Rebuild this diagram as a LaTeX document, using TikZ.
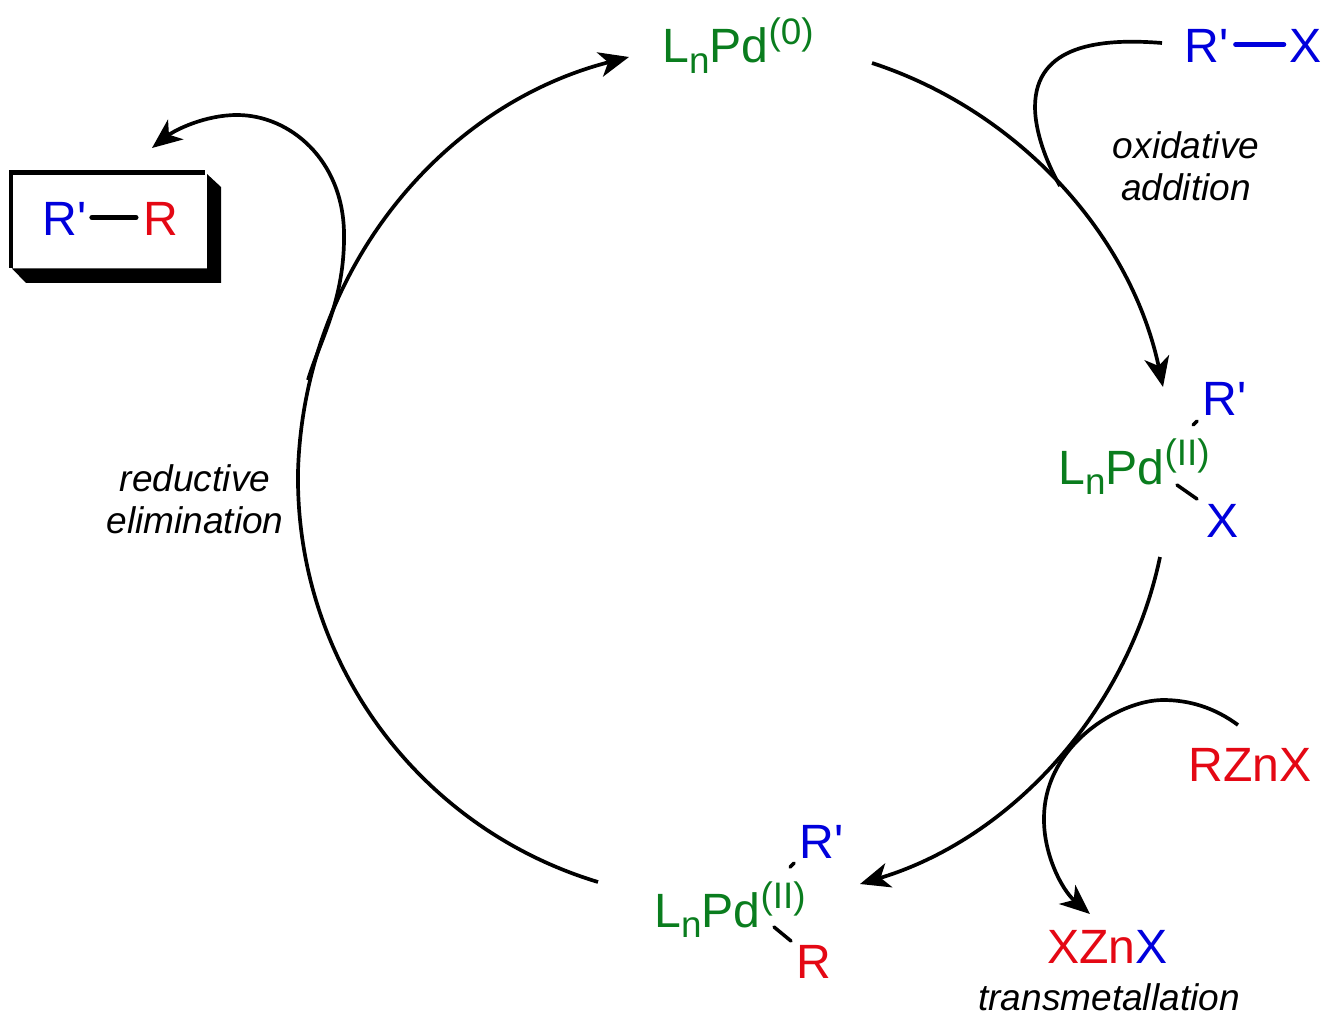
\documentclass[tikz,border=0pt]{standalone}
\usepackage{fontspec}
\setmainfont{Liberation Sans}
\usetikzlibrary{arrows.meta}
\definecolor{pdgreen}{RGB}{10,125,30}
\definecolor{rblue}{RGB}{0,0,220}
\definecolor{rred}{RGB}{228,8,20}
\newcommand{\lnpd}[1]{L\raisebox{-6.2pt}{\fontsize{21}{22}\selectfont n}Pd\raisebox{10.8pt}{\fontsize{21}{22}\selectfont (#1)}}
\newcommand{\rprime}{R\textquotesingle}
\tikzset{
	chem/.style={anchor=base west,inner sep=0pt,font=\fontsize{27.4}{30}\selectfont},
	step label/.style={inner sep=0pt,align=center,font=\fontsize{21.1}{24}\selectfont\itshape},
	cycle arrow/.style={line width=2.1pt,-{Stealth[length=0.6cm,width=0.5cm,inset=0.17cm]}},
	cycle line/.style={line width=2.1pt},
	bond/.style={line width=2.9pt,line cap=round,transform canvas={yshift=1.1pt}},
	ligand/.style={line width=2pt,line cap=round}
}
\begin{document}
\begin{tikzpicture}[x=0.02cm,y=-0.02cm]
	\useasboundingbox (0,0) rectangle (1327,1030);
	\node[chem,pdgreen] (pd0) at (662,63){\lnpd{0}};
	\node[chem,pdgreen] (pdx) at (1058,484){\lnpd{II}};
	\node[chem,pdgreen] (pdr) at (654,927){\lnpd{II}};
	\node[chem,rblue] (ra) at (1184,63){\rprime};
	\node[chem,rblue] (xa) at (1289,63){X};
	\node[chem,rblue] (rb) at (1202,415){\rprime};
	\node[chem,rblue] (xb) at (1206,537){X};
	\node[chem,rblue] (rc) at (799,858){\rprime};
	\node[chem,rred] (rd) at (796,978){R};
	\node[chem,rred] (rznx) at (1188,781){RZnX};
	\node[chem,rred] (xznx) at (1047,963){XZn\textcolor{rblue}{X}};
	\node[chem,rblue] (re) at (42,236){\rprime};
	\node[chem,rred] (rf) at (143,236){R};
	\node[step label] (oxadd) at (1186,166){oxidative\\addition};
	\node[step label] (redel) at (195,499){reductive\\elimination};
	\node[step label] (trans) at (1109,997){transmetallation};
	\coordinate (a1) at (872,63);
	\coordinate (a2) at (1163,387);
	\coordinate (b1) at (1160,557);
	\coordinate (b2) at (860,884);
	\coordinate (c1) at (598,882);
	\coordinate (c2) at (298,472);
	\coordinate (c3) at (629,57);
	\coordinate (la) at (1162,43);
	\coordinate (lb) at (1060,186);
	\coordinate (lc) at (1238,725);
	\coordinate (ld) at (1090,914);
	\coordinate (le) at (308,380);
	\coordinate (lf) at (152,148);
	\draw[cycle arrow] (a1) to[bend left=30,looseness=0.91] (a2);
	\draw[cycle arrow] (b1) to[bend left=30.7,looseness=0.91] (b2);
	\draw[cycle arrow] (c1) to[bend left=37,looseness=0.95] (c2) to[bend left=37,looseness=0.95] (c3);
	\draw[cycle line] (la) .. controls (1100,38) and (1035,45) .. (1035,107) .. controls (1035,130) and (1045,160) .. (lb);
	\draw[cycle arrow] (lc) .. controls (1215,708) and (1190,700) .. (1163,700) .. controls (1120,700) and (1043,745) .. (1044,820) .. controls (1044,855) and (1062,890) .. (ld);
	\draw[cycle arrow] (le) .. controls (320,340) and (345,300) .. (344,233) .. controls (343,160) and (290,115) .. (237,115) .. controls (205,115) and (175,130) .. (lf);
	\draw[bond,rblue,shorten <=4pt,shorten >=3pt] (ra.east) -- (xa.west);
	\draw[bond,shorten <=3pt,shorten >=4pt] (re.east) -- (rf.west);
	\coordinate (lg1) at (1193,425);
	\coordinate (lg2) at (1197,421);
	\coordinate (lg3) at (1177,485);
	\coordinate (lg4) at (1197,499);
	\coordinate (lg5) at (790,867);
	\coordinate (lg6) at (794,863);
	\coordinate (lg7) at (774,927);
	\coordinate (lg8) at (791,941);
	\draw[ligand] (lg1) -- (lg2);
	\draw[ligand] (lg3) -- (lg4);
	\draw[ligand] (lg5) -- (lg6);
	\draw[ligand] (lg7) -- (lg8);
	\draw[line width=2.7pt] (11,268) -- (11,172.5) -- (205,172.5);
	\fill (207,174) -- (221,187) -- (221,283) -- (26,283) -- (12,268.5) -- (207,268.5) -- cycle;
\end{tikzpicture}
\end{document}
